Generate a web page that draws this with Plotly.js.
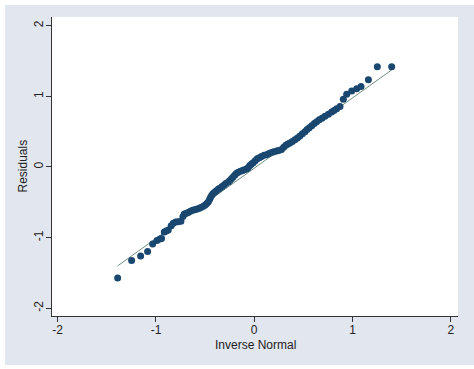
<!DOCTYPE html>
<html>
<head>
<meta charset="utf-8">
<script src="https://cdn.plot.ly/plotly-3.0.1.min.js"></script>
<style>
html,body{margin:0;padding:0;background:#ffffff;}
#chart{position:absolute;left:5px;top:5px;width:469px;height:360px;}
</style>
</head>
<body>
<div id="chart"></div>
<script>
// Inverse normal quantiles (x) and sorted residuals (y)
const inverseNormal = [
-1.39,-1.248,-1.156,-1.085,-1.034,-0.99,-0.96,-0.943,-0.915,-0.895,
-0.875,-0.845,-0.824,-0.80,-0.775,-0.746,-0.725,-0.712,-0.69,-0.671,
-0.65,-0.627,-0.607,-0.587,-0.565,-0.543,-0.522,-0.502,-0.485,-0.468,
-0.455,-0.445,-0.432,-0.418,-0.40,-0.384,-0.367,-0.350,-0.33,-0.309,
-0.29,-0.265,-0.248,-0.231,-0.215,-0.197,-0.18,-0.163,-0.14,-0.119,
-0.10,-0.079,-0.062,-0.045,-0.03,-0.011,0.01,0.030,0.052,0.074,
0.10,0.125,0.15,0.176,0.20,0.227,0.25,0.278,0.30,0.322,
0.342,0.363,0.388,0.414,0.44,0.465,0.49,0.516,0.538,0.560,
0.585,0.611,0.635,0.662,0.69,0.720,0.755,0.788,0.812,0.839,
0.873,0.907,0.941,0.992,1.043,1.087,1.162,1.253,1.399
];
const residuals = [
-1.57,-1.324,-1.259,-1.197,-1.089,-1.04,-1.02,-1.013,-0.92,-0.905,
-0.89,-0.83,-0.797,-0.78,-0.775,-0.768,-0.70,-0.665,-0.655,-0.645,
-0.625,-0.613,-0.605,-0.598,-0.588,-0.575,-0.56,-0.542,-0.52,-0.495,
-0.46,-0.43,-0.40,-0.375,-0.355,-0.335,-0.315,-0.30,-0.28,-0.26,
-0.235,-0.212,-0.19,-0.165,-0.14,-0.115,-0.09,-0.075,-0.06,-0.05,
-0.04,-0.03,-0.01,0.02,0.04,0.06,0.09,0.115,0.13,0.15,
0.165,0.175,0.19,0.205,0.215,0.226,0.235,0.246,0.28,0.307,
0.325,0.34,0.36,0.387,0.41,0.439,0.47,0.50,0.53,0.557,
0.585,0.614,0.64,0.670,0.69,0.717,0.745,0.778,0.80,0.826,
0.858,0.958,1.028,1.075,1.109,1.141,1.236,1.42,1.42
];
// Reference line end points
const refX = [-1.39, 1.415];
const refY = [-1.40, 1.39];

const xTicks = [-2,-1,0,1,2];
const yTicks = [-2,-1,0,1,2];
const xTitle = 'Inverse Normal';
const yTitle = 'Residuals';

const font = {family:'"Liberation Sans", Arial, sans-serif', size:12, color:'#222222'};

const traces = [
  {x: refX, y: refY, type:'scatter', mode:'lines',
   line:{color:'#6f8f80', width:1}, hoverinfo:'skip', showlegend:false},
  {x: inverseNormal, y: residuals, type:'scatter', mode:'markers',
   marker:{color:'#1a476f', size:7, line:{width:0}}, showlegend:false}
];

const layout = {
  width:469, height:360,
  paper_bgcolor:'#e2e6ef', plot_bgcolor:'#ffffff',
  margin:{l:47, r:16, t:12, b:49},
  font: font,
  showlegend:false,
  xaxis:{
    range:[-2.058, 2.074], tickvals:xTicks, ticktext:xTicks.map(String),
    showgrid:false, zeroline:false, showline:true, linecolor:'#333333', linewidth:1,
    ticks:'outside', ticklen:5, tickcolor:'#333333', tickfont:font,
    ticklabelstandoff:-2, automargin:false
  },
  yaxis:{
    range:[-2.109, 2.123], tickvals:yTicks, ticktext:yTicks.map(String),
    showgrid:false, zeroline:false, showline:true, linecolor:'#333333', linewidth:1,
    ticks:'outside', ticklen:5, tickcolor:'#333333', tickfont:font, tickangle:-90,
    ticklabelstandoff:-2, automargin:false
  },
  annotations:[
    {text:xTitle, xref:'paper', yref:'paper', x:0.5, y:0, xanchor:'center', yanchor:'middle',
     yshift:-29, showarrow:false, font:font},
    {text:yTitle, xref:'paper', yref:'paper', x:0, y:0.5, xanchor:'center', yanchor:'middle',
     xshift:-30, textangle:-90, showarrow:false, font:font}
  ]
};

Plotly.newPlot('chart', traces, layout, {displayModeBar:false, staticPlot:true});
</script>
</body>
</html>
